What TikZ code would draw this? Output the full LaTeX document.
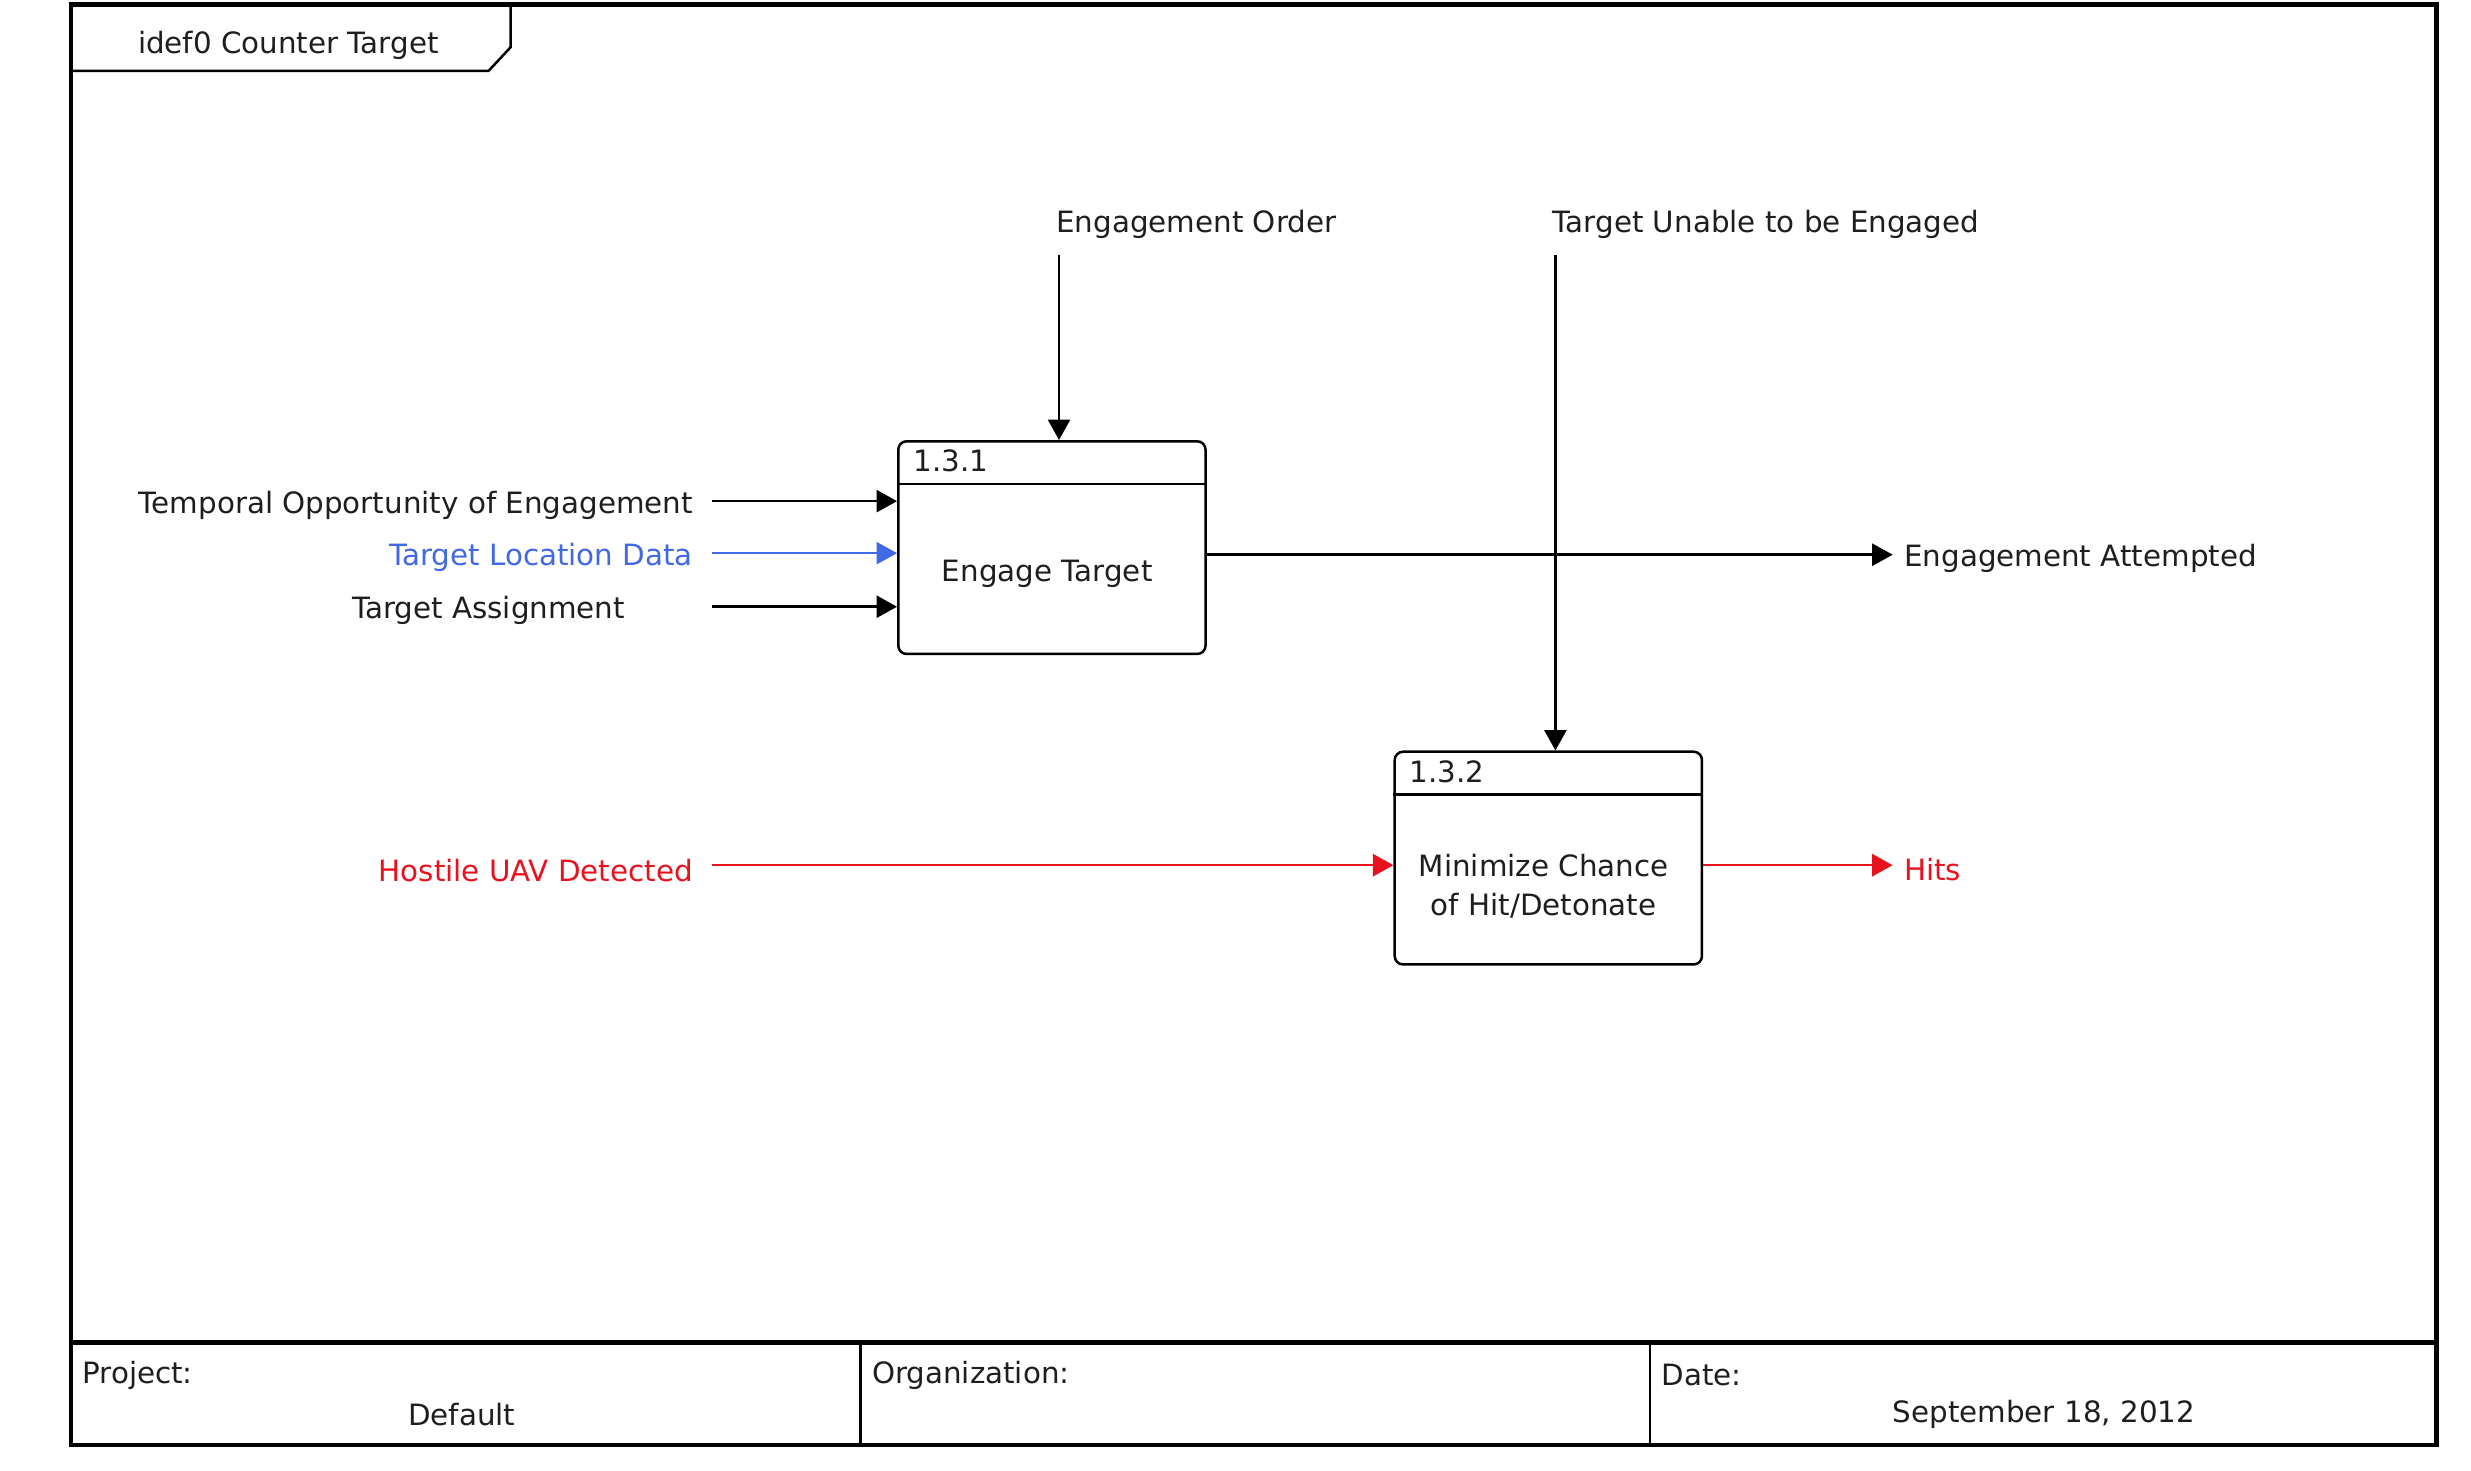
\documentclass[tikz,border=0pt]{standalone}
\usepackage{fontspec}
\setmainfont{DejaVu Sans}
\usepackage{tikz}
\usetikzlibrary{positioning,arrows.meta}
\usepackage{xcolor}
\definecolor{idefink}{RGB}{30,30,30}
\definecolor{idefblue}{RGB}{65,105,230}
\definecolor{idefred}{RGB}{232,18,30}

\begin{document}
\begin{tikzpicture}[x=0.02cm,y=-0.02cm,
    font=\fontsize{10.6}{14.2}\selectfont,text=idefink,
    func/.style={draw,line width=0.9pt,rounded corners=3pt,minimum width=3.9cm,minimum height=2.7cm,inner sep=0pt},
    flow/.style={line width=0.9pt,-{Triangle[length=0.26cm,width=0.28cm]}},
    lbl/.style={inner sep=0pt,yshift=-0.05cm}]
      \useasboundingbox (0,0) rectangle (1568,933);
      % frame and title tab
      \draw[line width=1.7pt] (45,3) rectangle (1546,917);
      \draw[line width=0.9pt] (45,45) -- (310,45) -- (324,30) -- (324,3);
      \node[lbl] (title) at (183,26) {idef0 Counter Target};
      % functions
      \node[func] (b1) at (667.5,347.5) {};
      \node[func] (b2) at (982.5,544.5) {};
      \draw[line width=0.9pt] ([yshift=-0.56cm]b1.north west) -- ([yshift=-0.56cm]b1.north east);
      \draw[line width=0.9pt] ([yshift=-0.56cm]b2.north west) -- ([yshift=-0.56cm]b2.north east);
      \node[lbl,anchor=west] (n131) at ([xshift=0.2cm,yshift=-0.22cm]b1.north west) {1.3.1};
      \node[lbl,anchor=west] (n132) at ([xshift=0.2cm,yshift=-0.22cm]b2.north west) {1.3.2};
      \node[lbl] (t131) at ([xshift=-0.06cm,yshift=-0.28cm]b1.center) {Engage Target};
      \node[lbl,align=center] (t132) at ([xshift=-0.06cm,yshift=-0.31cm]b2.center) {Minimize Chance\\of Hit/Detonate};
      % controls
      \coordinate (c1) at (672,162);
      \coordinate (c2) at (987,162);
      \node[lbl,anchor=west] (eo) at (670,140) {Engagement Order};
      \node[lbl,anchor=west] (tu) at (985,140) {Target Unable to be Engaged};
      \draw[flow] (c1) -- (c1 |- b1.north);
      \draw[flow] (c2) -- (c2 |- b2.north);
      % inputs
      \coordinate (i1) at (452,318);
      \coordinate (i2) at (452,351);
      \coordinate (i3) at (452,385);
      \coordinate (i4) at (452,549);
      \node[lbl,anchor=east] (toe) at (440,318) {Temporal Opportunity of Engagement};
      \node[lbl,anchor=east,text=idefblue] (tld) at (440,351) {Target Location Data};
      \node[lbl,anchor=east] (ta) at (397,385) {Target Assignment};
      \node[lbl,anchor=east,text=idefred] (uav) at (440,550) {Hostile UAV Detected};
      \draw[flow] (i1) -- (i1 -| b1.west);
      \draw[flow,idefblue] (i2) -- (i2 -| b1.west);
      \draw[flow] (i3) -- (i3 -| b1.west);
      \draw[flow,idefred] (i4) -- (i4 -| b2.west);
      % outputs
      \coordinate (o1) at (1201,352);
      \coordinate (o2) at (1201,549);
      \draw[flow] (o1 -| b1.east) -- (o1);
      \draw[flow,idefred] (o2 -| b2.east) -- (o2);
      \node[lbl,anchor=west] (ea) at ([xshift=0.14cm]o1) {Engagement Attempted};
      \node[lbl,anchor=west,text=idefred] (hits) at ([xshift=0.14cm]o2) {Hits};
      % footer
      \draw[line width=1.7pt] (45,852) -- (1546,852);
      \draw[line width=0.9pt] (546,852) -- (546,917);
      \draw[line width=0.9pt] (1047,852) -- (1047,917);
      \node[lbl,anchor=west] (proj) at (52,870) {Project:};
      \node[lbl] (projv) at (293,895) {Default};
      \node[lbl,anchor=west] (org) at (553,870) {Organization:};
      \node[lbl,anchor=west] (date) at (1054,870) {Date:};
      \node[lbl] (datev) at (1297,895) {September 18, 2012};
\end{tikzpicture}
\end{document}
